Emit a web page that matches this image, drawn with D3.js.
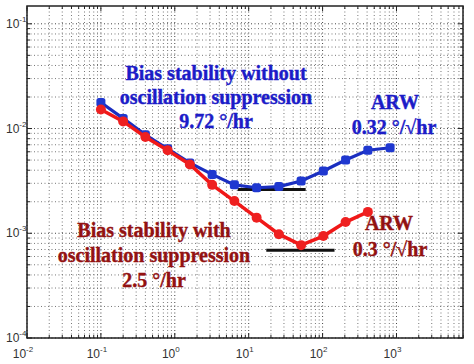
<!DOCTYPE html>
<html>
<head>
<meta charset="utf-8">
<script src="https://cdn.jsdelivr.net/npm/d3@7"></script>
<style>
  body { margin: 0; background: #fff; }
  svg { display: block; }
</style>
</head>
<body>
<svg id="chart"></svg>
<script>
// averaging time (s) and allan deviation values
const tauBlue = [0.1, 0.2, 0.4, 0.8, 1.6, 3.2, 6.4, 12.8, 25.6, 51.2, 102.4, 204.8, 409.6, 819.2]
const adevBlue = [0.0177, 0.0125, 0.0087, 0.0064, 0.0047, 0.00365, 0.0029, 0.00272, 0.00279, 0.00316, 0.00393, 0.0050, 0.0062, 0.00655]
const tauRed = [0.1, 0.2, 0.4, 0.8, 1.6, 3.2, 6.4, 12.8, 25.6, 51.2, 102.4, 204.8, 409.6]
const adevRed = [0.0152, 0.0117, 0.0083, 0.0062, 0.00454, 0.0029, 0.00203, 0.00141, 0.00098, 0.00077, 0.00094, 0.00128, 0.0016]
// bias stability markers: [tauStart, tauEnd, level]
const biasBlue = [7.1, 59, 0.00262]
const biasRed = [17.3, 145, 0.00069]
const xTicks = [-2, -1, 0, 1, 2, 3]
const yTicks = [-1, -2, -3, -4]

const W = 474, H = 364
const svg = d3.select('#chart').attr('width', W).attr('height', H)

const x = d3.scaleLog().domain([1e-2, Math.pow(10, 3.9)]).range([27, 463])
const y = d3.scaleLog().domain([1e-4, Math.pow(10, -0.83)]).range([338, 6])
const [x0, x1] = x.range(), [y0, y1] = y.range()

// minor + major grid values
const gx = [], gy = []
for (let e = -2; e <= 3; e++) for (let m = 1; m <= 9; m++) {
  const v = m * Math.pow(10, e)
  if (x(v) <= x1 + 0.5) gx.push({ v, major: m === 1 })
}
for (let e = -4; e <= -1; e++) for (let m = 1; m <= 9; m++) {
  const v = m * Math.pow(10, e)
  if (y(v) >= y1 - 0.5) gy.push({ v, major: m === 1 })
}

const grid = svg.append('g')
grid.selectAll('.gx').data(gx).join('line')
  .attr('x1', d => x(d.v)).attr('x2', d => x(d.v))
  .attr('y1', y0).attr('y2', y1)
  .attr('stroke', d => d.major ? '#444' : '#777')
  .attr('stroke-width', 1)
  .attr('stroke-dasharray', '1,2.5')
grid.selectAll('.gy').data(gy).join('line')
  .attr('y1', d => y(d.v)).attr('y2', d => y(d.v))
  .attr('x1', x0).attr('x2', x1)
  .attr('stroke', d => d.major ? '#444' : '#777')
  .attr('stroke-width', 1)
  .attr('stroke-dasharray', '1,2.5')

// inward ticks on all four sides
const ticks = svg.append('g').attr('stroke', '#222').attr('stroke-width', 1)
gx.forEach(d => {
  const len = d.major ? 5 : 3
  ticks.append('line').attr('x1', x(d.v)).attr('x2', x(d.v)).attr('y1', y0).attr('y2', y0 - len)
  ticks.append('line').attr('x1', x(d.v)).attr('x2', x(d.v)).attr('y1', y1).attr('y2', y1 + len)
})
gy.forEach(d => {
  const len = d.major ? 5 : 3
  ticks.append('line').attr('y1', y(d.v)).attr('y2', y(d.v)).attr('x1', x0).attr('x2', x0 + len)
  ticks.append('line').attr('y1', y(d.v)).attr('y2', y(d.v)).attr('x1', x1).attr('x2', x1 - len)
})

svg.append('rect')
  .attr('x', x0).attr('y', y1)
  .attr('width', x1 - x0).attr('height', y0 - y1)
  .attr('fill', 'none').attr('stroke', '#222').attr('stroke-width', 1.5)

// tick labels 10^n
const tickFont = 'Liberation Sans, Arial, sans-serif'
const xl = svg.append('g').attr('font-family', tickFont).attr('fill', '#333')
xTicks.forEach(e => {
  const t = xl.append('text')
    .attr('x', x(Math.pow(10, e)) - 4).attr('y', 358)
    .attr('text-anchor', 'middle').attr('font-size', 12)
  t.append('tspan').text('10')
  t.append('tspan').attr('dy', -6).attr('font-size', 8).text(e)
})
yTicks.forEach(e => {
  const t = xl.append('text')
    .attr('x', 6).attr('y', y(Math.pow(10, e)) + 4)
    .attr('font-size', 12)
  t.append('tspan').text('10')
  t.append('tspan').attr('dy', -6).attr('font-size', 8).text(e)
})

// bias stability bars
const bars = [biasBlue, biasRed]
svg.selectAll('.bias').data(bars).join('line')
  .attr('x1', d => x(d[0])).attr('x2', d => x(d[1]))
  .attr('y1', d => y(d[2])).attr('y2', d => y(d[2]))
  .attr('stroke', '#111').attr('stroke-width', 3)

const line = d3.line().x(d => x(d[0])).y(d => y(d[1]))

const blue = d3.zip(tauBlue, adevBlue)
const red = d3.zip(tauRed, adevRed)

svg.append('path').datum(blue)
  .attr('d', line).attr('fill', 'none')
  .attr('stroke', '#1a2ec0').attr('stroke-width', 3.2)
svg.selectAll('.bm').data(blue).join('rect')
  .attr('x', d => x(d[0]) - 4.5).attr('y', d => y(d[1]) - 4.5)
  .attr('width', 9).attr('height', 9).attr('rx', 2.5)
  .attr('fill', '#1f38d0')

svg.append('path').datum(red)
  .attr('d', line).attr('fill', 'none')
  .attr('stroke', '#f01818').attr('stroke-width', 3.5)
svg.selectAll('.rm').data(red).join('circle')
  .attr('cx', d => x(d[0])).attr('cy', d => y(d[1]))
  .attr('r', 5).attr('fill', '#ee2020')

// annotations
const serif = 'Liberation Serif, Times New Roman, serif'
const notes = [
  { x: 216, y: 80, fill: '#1c1cc8', t: 'Bias stability without' },
  { x: 216, y: 104, fill: '#1c1cc8', t: 'oscillation suppression' },
  { x: 216, y: 128, fill: '#1c1cc8', t: '9.72 °/hr' },
  { x: 395, y: 109, fill: '#1c1cc8', t: 'ARW' },
  { x: 394, y: 134, fill: '#1c1cc8', t: '0.32 °/√hr' },
  { x: 154, y: 237, fill: '#931212', t: 'Bias stability with' },
  { x: 154, y: 262, fill: '#931212', t: 'oscillation suppression' },
  { x: 154, y: 287, fill: '#931212', t: '2.5 °/hr' },
  { x: 389, y: 230, fill: '#931212', t: 'ARW' },
  { x: 390, y: 256, fill: '#931212', t: '0.3 °/√hr' }
]
svg.selectAll('.note').data(notes).join('text')
  .attr('x', d => d.x).attr('y', d => d.y)
  .attr('text-anchor', 'middle')
  .attr('font-family', serif).attr('font-weight', 'bold').attr('font-size', 20)
  .attr('fill', d => d.fill)
  .attr('stroke', d => d.fill).attr('stroke-width', 0.4)
  .text(d => d.t)
</script>
</body>
</html>
